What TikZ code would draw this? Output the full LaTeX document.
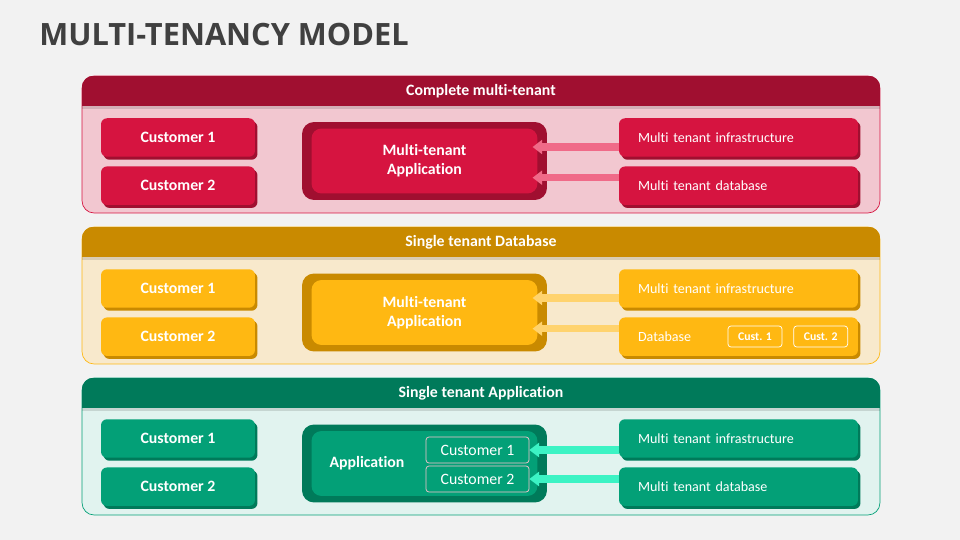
\documentclass[tikz,border=0pt]{standalone}
\usepackage{fontspec}
\setmainfont{Carlito}[Ligatures=NoCommon]
\newfontfamily\titlefont{Open Sans}
\usetikzlibrary{positioning,arrows.meta,shadows}

\definecolor{pageGrey}{HTML}{F2F2F2}
\definecolor{titleGrey}{HTML}{404040}
% red panel
\definecolor{redDark}{HTML}{A00F30}
\definecolor{redBox}{HTML}{D61440}
\definecolor{redBody}{HTML}{F2C7D0}
\definecolor{redArrow}{HTML}{F06A88}
% yellow panel
\definecolor{yellowDark}{HTML}{C98A00}
\definecolor{yellowBox}{HTML}{FFB812}
\definecolor{yellowBody}{HTML}{F8E9CC}
\definecolor{yellowArrow}{HTML}{FFD36E}
% green panel
\definecolor{greenDark}{HTML}{007A5A}
\definecolor{greenBox}{HTML}{03A077}
\definecolor{greenBody}{HTML}{E1F3EF}
\definecolor{greenArrow}{HTML}{3CF3C4}
\definecolor{pinkLine}{HTML}{F4C3CC}

\begin{document}
\begin{tikzpicture}[x=0.02cm, y=-0.02cm, node distance=0.18cm and 1cm,
    panel/.style={draw=#1Box, fill=#1Body, rounded corners=0.24cm, minimum width=15.96cm, minimum height=2.74cm, inner sep=0pt},
    headtext/.style={text=white, font=\fontsize{9}{10}\selectfont\bfseries},
    custbox/.style={fill=#1Box, rounded corners=0.12cm, minimum width=3.08cm, minimum height=0.77cm, text=white, font=\fontsize{9}{10}\selectfont\bfseries, drop shadow={fill=#1Dark, opacity=1, shadow xshift=0.05cm, shadow yshift=-0.06cm}},
    srcbox/.style={fill=#1Box, rounded corners=0.12cm, minimum height=0.77cm, text width=4.02cm, inner xsep=0.38cm, align=left, text=white, font=\fontsize{8}{10}\selectfont, drop shadow={fill=#1Dark, opacity=1, shadow xshift=0.05cm, shadow yshift=-0.06cm}},
    appframe/.style={fill=#1Dark, rounded corners=0.24cm, minimum width=4.9cm, minimum height=1.56cm},
    appbox/.style={fill=#1Box, rounded corners=0.2cm, minimum width=4.52cm, minimum height=1.3cm, text=white, align=center, font=\fontsize{9}{11}\selectfont\bfseries},
    fatarrow/.style={draw=#1Arrow, line width=4pt, -{Triangle[length=5.5pt, width=8pt]}},
    tagbox/.style={draw=white, rounded corners=0.06cm, minimum width=1.08cm, minimum height=0.42cm, inner sep=0pt, text=white, font=\fontsize{6.7}{8}\selectfont\bfseries},
    slotbox/.style={draw=pinkLine, rounded corners=0.06cm, minimum width=2.06cm, minimum height=0.52cm, inner sep=0pt, text=white, font=\fontsize{9}{10}\selectfont}]
    % Page
    \fill[pageGrey] (0,0) rectangle (960,540);
    \useasboundingbox (0,0) rectangle (960,540);
    \node[anchor=west, inner sep=0pt, text=titleGrey, font=\titlefont\bfseries\fontsize{17.5}{20}\selectfont] (title) at (39,34.5) {MULTI-TENANCY MODEL};

    % Complete multi-tenant
    \node[panel=red] (panelA) at (481,144.5) {};
    \begin{scope}
        \clip[rounded corners=0.24cm] (panelA.north west) rectangle (panelA.south east);
        \fill[redDark] (panelA.north west) rectangle ([yshift=-0.6cm]panelA.north east);
        \fill[black, opacity=0.12] ([yshift=-0.6cm]panelA.north west) rectangle ([yshift=-0.66cm]panelA.north east);
    \end{scope}
    \node[headtext] (hdrA) at (481,91) {Complete multi-tenant};
    \node[custbox=red] (custA1) at (178,137.5) {Customer 1};
    \node[custbox=red, below=of custA1] (custA2) {Customer 2};
    \node[appframe=red] (frameA) at (424.5,161) {};
    \node[appbox=red] (appA) at (frameA) {Multi-tenant\\Application};
    \node[srcbox=red] (infraA) at (738.5,137.5) {Multi tenant infrastructure};
    \node[srcbox=red, below=of infraA] (dbA) {Multi tenant database};
    \draw[fatarrow=red, shorten >=-3pt] ([yshift=-0.19cm]infraA.west) -- ([yshift=-0.19cm]infraA.west -| appA.east);
    \draw[fatarrow=red, shorten >=-3pt] ([yshift=0.16cm]dbA.west) -- ([yshift=0.16cm]dbA.west -| appA.east);

    % Single tenant Database
    \node[panel=yellow] (panelB) at (481,295.5) {};
    \begin{scope}
        \clip[rounded corners=0.24cm] (panelB.north west) rectangle (panelB.south east);
        \fill[yellowDark] (panelB.north west) rectangle ([yshift=-0.6cm]panelB.north east);
        \fill[black, opacity=0.12] ([yshift=-0.6cm]panelB.north west) rectangle ([yshift=-0.66cm]panelB.north east);
    \end{scope}
    \node[headtext] (hdrB) at (481,242) {Single tenant Database};
    \node[custbox=yellow] (custB1) at (178,288.5) {Customer 1};
    \node[custbox=yellow, below=of custB1] (custB2) {Customer 2};
    \node[appframe=yellow] (frameB) at (424.5,312.5) {};
    \node[appbox=yellow] (appB) at (frameB) {Multi-tenant\\Application};
    \node[srcbox=yellow] (infraB) at (738.5,288.5) {Multi tenant infrastructure};
    \node[srcbox=yellow, below=of infraB] (dbB) {Database};
    \node[tagbox] (tagB1) at (755,336.5) {Cust. 1};
    \node[tagbox, right=0.22cm of tagB1] (tagB2) {Cust. 2};
    \draw[fatarrow=yellow, shorten >=-3pt] ([yshift=-0.19cm]infraB.west) -- ([yshift=-0.19cm]infraB.west -| appB.east);
    \draw[fatarrow=yellow, shorten >=-3pt] ([yshift=0.16cm]dbB.west) -- ([yshift=0.16cm]dbB.west -| appB.east);

    % Single tenant Application
    \node[panel=green] (panelC) at (481,446.5) {};
    \begin{scope}
        \clip[rounded corners=0.24cm] (panelC.north west) rectangle (panelC.south east);
        \fill[greenDark] (panelC.north west) rectangle ([yshift=-0.6cm]panelC.north east);
        \fill[black, opacity=0.12] ([yshift=-0.6cm]panelC.north west) rectangle ([yshift=-0.66cm]panelC.north east);
    \end{scope}
    \node[headtext] (hdrC) at (481,393) {Single tenant Application};
    \node[custbox=green] (custC1) at (178,438.5) {Customer 1};
    \node[custbox=green, below=of custC1] (custC2) {Customer 2};
    \node[appframe=green] (frameC) at (424.5,463.5) {};
    \node[appbox=green] (appC) at (frameC) {};
    \node[text=white, font=\fontsize{9}{10}\selectfont\bfseries] (appLabelC) at (367,463) {Application};
    \node[slotbox] (slotC1) at (477.5,450) {Customer 1};
    \node[slotbox] (slotC2) at (477.5,479) {Customer 2};
    \node[srcbox=green] (infraC) at (738.5,438.5) {Multi tenant infrastructure};
    \node[srcbox=green, below=of infraC] (dbC) {Multi tenant database};
    \draw[fatarrow=green] (infraC.west |- slotC1) -- (slotC1.east);
    \draw[fatarrow=green] (dbC.west |- slotC2) -- (slotC2.east);
\end{tikzpicture}
\end{document}
